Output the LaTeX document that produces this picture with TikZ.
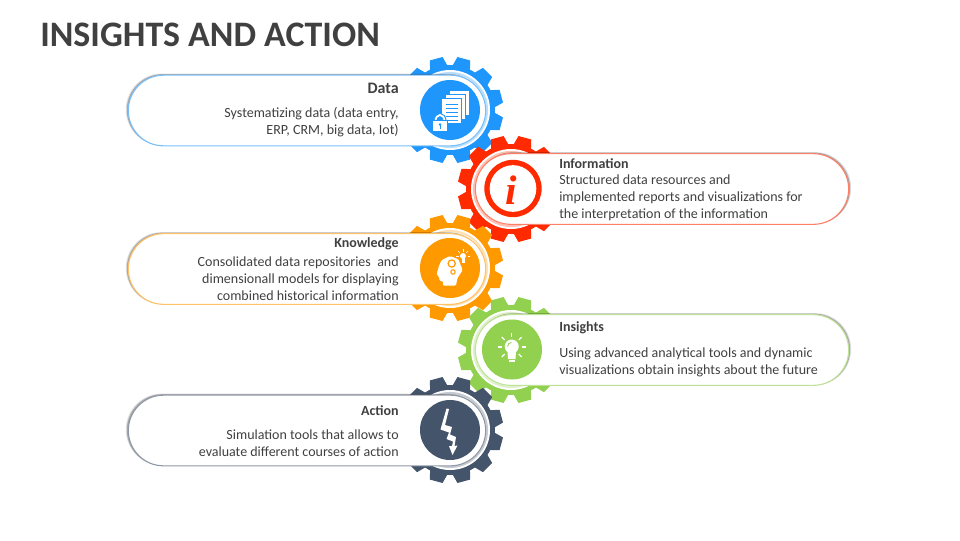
\documentclass[tikz,border=0pt]{standalone}
\usepackage{xcolor}
\usepackage{fontspec}
\setmainfont{Carlito}
\usetikzlibrary{shapes.misc}

\definecolor{databLue}{HTML}{1E96FC}
\definecolor{infored}{HTML}{FF2A00}
\definecolor{knoworange}{HTML}{FF9900}
\definecolor{insgreen}{HTML}{92D050}
\definecolor{actnavy}{HTML}{44546A}
\definecolor{bodygray}{HTML}{404040}

\tikzset{
    pill/.style={rounded rectangle, draw=#1!60!white, line width=0.8pt, fill=white, inner sep=0pt,
        minimum height=53pt},
    shade/.style={rounded rectangle, fill=black, opacity=#1, inner sep=0pt, minimum height=53.8pt},
    disc/.style={circle, fill=#1, inner sep=0pt, minimum size=45pt},
    head/.style={font=\fontsize{10.5}{12}\selectfont\bfseries, text=bodygray, inner sep=0pt},
    body/.style={font=\fontsize{10.5}{12.7}\selectfont, text=bodygray, inner sep=0pt},
}

% gear wheel with the white ring round the icon
\newcommand{\gearwheel}[3]{
    \begin{scope}[shift={(#1,#2)}]
        \fill[#3] (0,0) circle [radius=45];
        \foreach \a in {15,45,...,345}
            \fill[#3] (\a-12:44) -- (\a-7:53.5) -- (\a+7:53.5) -- (\a+12:44) -- cycle;
        \fill[white] (0,0) circle [radius=40];
        \draw[#3!30!white, line width=1.6pt] (0,0) circle [radius=37];
    \end{scope}
}

\begin{document}
\begin{tikzpicture}[x=0.75pt, y=-0.75pt]
    \useasboundingbox (0,0) rectangle (960,540);

    \node (title) at (40,35) [anchor=west, inner sep=0pt, text=bodygray, font=\fontsize{26.9}{30}\selectfont\bfseries] {INSIGHTS AND ACTION};

    % data
    \gearwheel{450}{110}{databLue}
    \node (s1a) at (305,109.5) [shade=0.12, minimum width=268.8pt] {};
    \node (s1b) at (306,110) [shade=0.25, minimum width=268.8pt] {};
    \node (p1) at (307,110.5) [pill=databLue, minimum width=268pt] {};
    \node (c1) at (450,110) [disc=databLue] {};
    \draw[databLue, fill=white, line width=0.5pt] (449,90) rectangle (469,115);
    \draw[databLue, fill=white, line width=0.5pt] (445,94) rectangle (465,119);
    \draw[databLue, fill=white, line width=0.5pt] (441.5,98) rectangle (461.5,123.5);
    \foreach \y in {104,108,112,116,120}
        \draw[databLue, line width=0.7pt] (446,\y) -- (458,\y);
    \draw[databLue, line width=3pt] (435.5,121) arc (180:360:4.5 and 6);
    \draw[white, line width=1.4pt] (435.5,121) arc (180:360:4.5 and 6);
    \draw[databLue, fill=white, line width=0.5pt] (432.5,120.5) rectangle (447,131);
    \fill[databLue] (440,124.5) circle [radius=1.3];
    \draw[databLue, line width=0.6pt] (440,124.5) -- (440,128.5);
    \node (h1) at (399,88) [head, anchor=east, font=\fontsize{12}{12}\selectfont\bfseries] {Data};
    \node (t1) at (399,122.5) [body, anchor=east, align=right] {Systematizing data (data entry,\\ERP, CRM, big data, Iot)};

    % information
    \gearwheel{511}{189}{infored}
    \node (s2a) at (664,188) [shade=0.12, minimum width=280.8pt] {};
    \node (s2b) at (663,188.5) [shade=0.25, minimum width=280.8pt] {};
    \node (p2) at (662,189) [pill=infored, minimum width=280pt] {};
    \node (c2) at (513,188.5) [disc=infored, minimum size=43pt] {};
    \node (c2a) at (513,188.5) [circle, fill=white, inner sep=0pt, minimum size=35pt] {};
    \node (i2) at (511.5,190) [text=infored, inner sep=0pt, font=\fontspec{Liberation Serif}\fontsize{31}{31}\selectfont\bfseries\itshape] {i};
    \node (h2) at (559,164) [head, anchor=west] {Information};
    \node (t2) at (559,197.5) [body, anchor=west, align=left] {Structured data resources and\\implemented reports and visualizations for\\the interpretation of the information};

    % knowledge
    \gearwheel{450}{268}{knoworange}
    \node (s3a) at (305,268) [shade=0.12, minimum width=268.8pt] {};
    \node (s3b) at (306,268.5) [shade=0.25, minimum width=268.8pt] {};
    \node (p3) at (307,269) [pill=knoworange, minimum width=268pt] {};
    \node (c3) at (450,268) [disc=knoworange] {};
    \fill[white, rounded corners=1pt] (437.3,271.7) -- (439.3,265) -- (441.7,260) -- (450,256) -- (458.3,259.3) -- (462.7,270) -- (457.3,278.3) -- (456,285.7) -- (442.7,285.7) -- (443.3,281) -- (439.3,281) -- (439.3,276.7) -- (436.7,275) -- cycle;
    \draw[knoworange, line width=0.9pt] (451.7,263.5) circle [radius=3.6];
    \draw[knoworange, line width=0.8pt] (453,272) circle [radius=2.2];
    \fill[knoworange] (463,256) circle [radius=4.2];
    \fill[white] (463,256) circle [radius=3];
    \fill[white] (461.5,258) rectangle (464.5,262.5);
    \foreach \a in {0,45,90,135,180}
        \draw[white, line width=0.4pt] (463,256) ++(\a+180:4.5) -- ++(\a+180:2.5);
    \node (h3) at (399,244) [head, anchor=east] {Knowledge};
    \node (t3) at (399,279) [body, anchor=east, align=right] {Consolidated data repositories~ and\\dimensionall models for displaying\\combined historical information};

    % insights
    \gearwheel{511}{350}{insgreen}
    \node (s4a) at (664,349) [shade=0.12, minimum width=280.8pt] {};
    \node (s4b) at (663,349.5) [shade=0.25, minimum width=280.8pt] {};
    \node (p4) at (662,350) [pill=insgreen, minimum width=280pt] {};
    \node (c4) at (512,349.5) [disc=insgreen] {};
    \fill[white] (511.7,346.5) circle [radius=7];
    \fill[white] (507.5,351) -- (516,351) -- (515.5,359) -- (508,359) -- cycle;
    \fill[white] (509,359.5) rectangle (514.5,362);
    \draw[insgreen, line width=0.6pt] (507.5,346.5) arc (180:270:4);
    \foreach \a in {0,45,90,135,180,225,315}
        \draw[white, line width=0.9pt] (511.7,347) ++(\a+180:10) -- ++(\a+180:4);
    \node (h4) at (559,328) [head, anchor=west] {Insights};
    \node (t4) at (559,362) [body, anchor=west, align=left] {Using advanced analytical tools and dynamic\\visualizations obtain insights about the future};

    % action
    \gearwheel{450}{430}{actnavy}
    \node (s5a) at (305,429.5) [shade=0.12, minimum width=268.8pt] {};
    \node (s5b) at (306,430) [shade=0.25, minimum width=268.8pt] {};
    \node (p5) at (307,430.5) [pill=actnavy, minimum width=268pt] {};
    \node (c5) at (450,430) [disc=actnavy] {};
    \fill[white] (446.5,408.5) -- (440.5,429.5) -- (449,432.5) -- (446.5,439) -- (453,441.5) -- (452,446) -- (449,446) -- (452.5,455) -- (457.5,445.5) -- (454.5,446) -- (456,437) -- (450,434.5) -- (452,427) -- (445,425) -- (449,409) -- cycle;
    \node (h5) at (399,411) [head, anchor=east] {Action};
    \node (t5) at (399,443) [body, anchor=east, align=right] {Simulation tools that allows to\\evaluate different courses of action};
\end{tikzpicture}
\end{document}
